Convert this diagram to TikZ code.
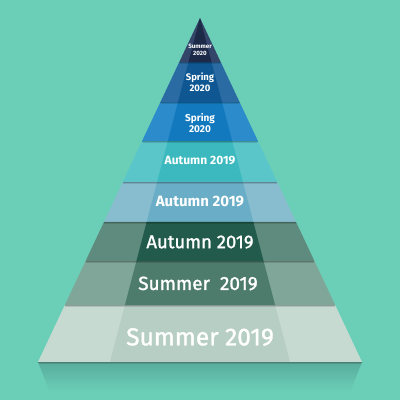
\documentclass[tikz,border=0pt]{standalone}
\usepackage{fontspec}
\setmainfont{Fira Sans}
\newfontfamily\medfont[FakeBold=1.3]{Fira Sans}
\usetikzlibrary{calc}
\definecolor{bg}{HTML}{6BCFB7}
\definecolor{refl}{HTML}{58AC9C}
\definecolor{saA}{HTML}{34456A}\definecolor{caA}{HTML}{1C2A48}
\definecolor{saB}{HTML}{2B6BA4}\definecolor{caB}{HTML}{0F5792}
\definecolor{saC}{HTML}{2B8BCB}\definecolor{caC}{HTML}{1379BE}
\definecolor{saD}{HTML}{5AC6CA}\definecolor{caD}{HTML}{3BB9BE}
\definecolor{saE}{HTML}{88BDD0}\definecolor{caE}{HTML}{6AADC6}
\definecolor{saF}{HTML}{5E8B7D}\definecolor{caF}{HTML}{225B4B}
\definecolor{saG}{HTML}{7FA698}\definecolor{caG}{HTML}{4E7C6C}
\definecolor{saH}{HTML}{C6DAD2}\definecolor{caH}{HTML}{B7CEC5}
\newcommand{\pyrlayer}[4]{%
  \fill[#3] ($(A)!#1!(BL)$) -- ($(A)!#2!(BL)$) -- ($(A)!#2!(BR)$) -- ($(A)!#1!(BR)$) -- cycle;
  \fill[#4] ($(A)!#1!(FL)$) -- ($(A)!#2!(FL)$) -- ($(A)!#2!(FR)$) -- ($(A)!#1!(FR)$) -- cycle;
}
\newcommand{\pyrshadow}[1]{%
  \draw[black,opacity=0.28,line width=1pt] ($(A)!#1!(BL)+(0,0.5)$) -- ($(A)!#1!(BR)+(0,0.5)$);
  \draw[black,opacity=0.12,line width=1.2pt] ($(A)!#1!(BL)+(0.5,1.6)$) -- ($(A)!#1!(BR)+(-0.5,1.6)$);
}
\tikzset{lbl/.style={text=white,align=center,inner sep=0pt}}
\begin{document}
\begin{tikzpicture}[x=1pt,y=-1pt]
\fill[bg] (0,0) rectangle (400,400);
\useasboundingbox (0,0) rectangle (400,400);
\coordinate (A) at (200,18);
\coordinate (BL) at (38,362);
\coordinate (BR) at (362,362);
\coordinate (FL) at (110,362);
\coordinate (FR) at (290,362);
% reflection below base
\shade[top color=refl,bottom color=bg] (38,362) -- (362,362) -- (350,392) -- (50,392) -- cycle;
\pyrlayer{0}{0.1279}{saA}{caA}
\pyrlayer{0.1279}{0.2442}{saB}{caB}
\pyrlayer{0.2442}{0.3576}{saC}{caC}
\pyrlayer{0.3576}{0.4767}{saD}{caD}
\pyrlayer{0.4767}{0.5930}{saE}{caE}
\pyrlayer{0.5930}{0.7064}{saF}{caF}
\pyrlayer{0.7064}{0.8343}{saG}{caG}
\pyrlayer{0.8343}{1}{saH}{caH}
\pyrshadow{0.1279}
\pyrshadow{0.2442}
\pyrshadow{0.3576}
\pyrshadow{0.4767}
\pyrshadow{0.5930}
\pyrshadow{0.7064}
\pyrshadow{0.8343}
\pyrshadow{1}
\node[lbl,font=\bfseries\fontsize{6.2}{6.5}\selectfont] (l1) at (200,50) {Summer\\2020};
\node[lbl,font=\bfseries\fontsize{9.5}{11}\selectfont] (l2) at (200,82.5) {Spring\\2020};
\node[lbl,font=\bfseries\fontsize{10}{11}\selectfont] (l3) at (200,123.5) {Spring\\2020};
\node[lbl,font=\bfseries\fontsize{12}{13}\selectfont] (l4) at (200,161) {Autumn 2019};
\node[lbl,font=\bfseries\fontsize{15}{16}\selectfont] (l5) at (200,202) {Autumn 2019};
\node[lbl,font=\medfont\fontsize{18.5}{19}\selectfont] (l6) at (200,242) {Autumn 2019};
\node[lbl,font=\medfont\fontsize{19}{20}\selectfont] (l7) at (198,283.5) {Summer\ \ 2019};
\node[lbl,font=\medfont\fontsize{24.5}{25}\selectfont] (l8) at (200,337) {Summer 2019};
\end{tikzpicture}
\end{document}
